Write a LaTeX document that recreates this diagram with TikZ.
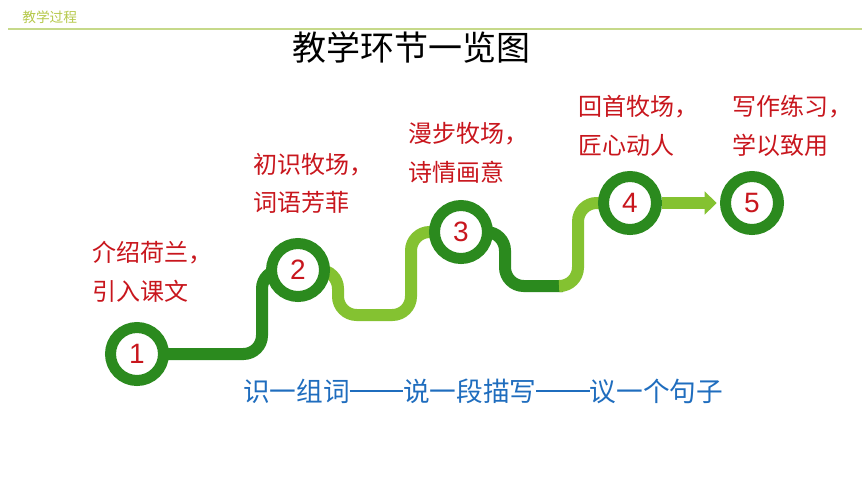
\documentclass[tikz,border=0pt]{standalone}
\usepackage{fontspec}
\setsansfont{Liberation Sans}
\newfontfamily\cjk{Noto Sans CJK SC}
\usetikzlibrary{arrows.meta,calc,backgrounds}
\definecolor{dkgreen}{HTML}{2B8A1E}
\definecolor{ltgreen}{HTML}{84C231}
\definecolor{numred}{HTML}{C8161D}
\definecolor{txtblue}{HTML}{1F6DBE}
\definecolor{hdrgreen}{HTML}{B5C84A}
\definecolor{hdrline}{HTML}{C6D98A}
\newcommand\mydash{\rule[0.34em]{2em}{0.07em}}
\tikzset{
  ring/.style={circle, draw=dkgreen, line width=8.25pt, fill=white,
    minimum size=39.75pt, inner sep=0pt, text=numred,
    font=\sffamily\fontsize{21}{21}\selectfont},
  redlabel/.style={anchor=west, align=left, inner sep=0pt, text=numred,
    font=\cjk\fontsize{18}{29}\selectfont},
  darkpath/.style={draw=dkgreen, line width=9pt, rounded corners=14pt},
  lightpath/.style={draw=ltgreen, line width=9pt, rounded corners=14pt},
}
\begin{document}
\begin{tikzpicture}[x=0.75pt, y=-0.75pt]
\useasboundingbox (0,0) rectangle (862,483);
% header
\node[anchor=west, inner sep=0pt, text=hdrgreen, font=\cjk\fontsize{10.3}{12}\selectfont] (h) at (22,17) {教学过程};
\coordinate (hl0) at (8,29);
\coordinate (hl1) at (862,29);
\draw[hdrline, line width=0.9pt] (hl0) -- (hl1);
% title
\node[inner sep=0pt, font=\cjk\fontsize{25.5}{30}\selectfont] (t) at (411,47) {教学环节一览图};
% rings
\node[ring] (c1) at (137,354) {1};
\node[ring] (c2) at (298,270) {2};
\node[ring] (c3) at (461,232) {3};
\node[ring] (c4) at (630,203) {4};
\node[ring] (c5) at (752,203) {5};
% paths
\begin{scope}[on background layer]
\draw[darkpath] (c1.center) -| (262,270) -- (c2.center);
\draw[lightpath] (c2.center) -| (338,315) -| (411,232) -- (c3.center);
\draw[darkpath] (c3.center) -| (505,286) -- (563,286);
\coordinate (sw) at (562,286);
\draw[lightpath] (sw) -| (578,203) -- (c4.center);
\end{scope}
\draw[ltgreen, line width=8.5pt, -{Triangle[length=9pt,width=17pt]}, shorten >=2.5pt] (c4) -- (c5);
% labels
\node[redlabel] (l1) at (92,271.5) {介绍荷兰，\\引入课文};
\node[redlabel] (l2) at (253,183.5) {初识牧场，\\词语芳菲};
\node[redlabel] (l3) at (408,153) {漫步牧场，\\诗情画意};
\node[redlabel] (l4) at (578,126) {回首牧场，\\匠心动人};
\node[redlabel] (l5) at (732,126) {写作练习，\\学以致用};
% bottom text
\node[inner sep=0pt, text=txtblue, font=\cjk\fontsize{20}{24}\selectfont] (b) at (483,391) {识一组词\mydash 说一段描写\mydash 议一个句子};
\end{tikzpicture}
\end{document}
